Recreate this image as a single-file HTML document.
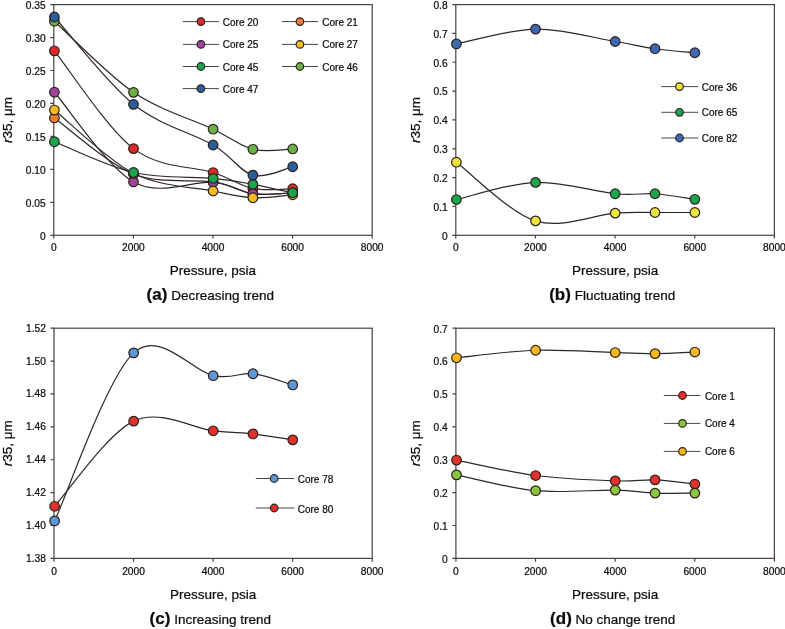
<!DOCTYPE html>
<html><head><meta charset="utf-8"><title>r35 vs pressure</title>
<style>
html,body{margin:0;padding:0;background:#fff;}
body{width:785px;height:629px;overflow:hidden;}
svg{display:block;}
text{font-family:"Liberation Sans", Arial, sans-serif;fill:#0a0a0a;stroke:#0a0a0a;stroke-width:0.22px;}
.tk{font-size:10.2px;}
.lt{font-size:10px;}
.xt,.yt,.cp{font-size:13.5px;}
.cb{font-size:17px;font-weight:bold;}
.ln{fill:none;stroke:#2e2624;stroke-width:1.2;}
.lg{fill:none;stroke:#4e4442;stroke-width:1;}
.mk{stroke:#2a201e;stroke-width:1.2;}
</style></head>
<body>
<svg width="785" height="629" viewBox="0 0 785 629">
<g><rect x="53.8" y="4.6" width="318.4" height="230.7" fill="none" stroke="#4a403e" stroke-width="1.2"/>
<text x="45.6" y="239.6" class="tk" text-anchor="end">0</text>
<text x="45.6" y="206.64" class="tk" text-anchor="end">0.05</text>
<text x="45.6" y="173.69" class="tk" text-anchor="end">0.10</text>
<text x="45.6" y="140.73" class="tk" text-anchor="end">0.15</text>
<text x="45.6" y="107.77" class="tk" text-anchor="end">0.20</text>
<text x="45.6" y="74.81" class="tk" text-anchor="end">0.25</text>
<text x="45.6" y="41.86" class="tk" text-anchor="end">0.30</text>
<text x="45.6" y="8.9" class="tk" text-anchor="end">0.35</text>
<text x="53.8" y="250.7" class="tk" text-anchor="middle">0</text>
<text x="133.4" y="250.7" class="tk" text-anchor="middle">2000</text>
<text x="213" y="250.7" class="tk" text-anchor="middle">4000</text>
<text x="292.6" y="250.7" class="tk" text-anchor="middle">6000</text>
<text x="372.2" y="250.7" class="tk" text-anchor="middle">8000</text>
<path d="M50.3,235.3H53.8 M50.3,202.34H53.8 M50.3,169.39H53.8 M50.3,136.43H53.8 M50.3,103.47H53.8 M50.3,70.51H53.8 M50.3,37.56H53.8 M50.3,4.6H53.8 M53.8,235.3V238.6 M133.4,235.3V238.6 M213,235.3V238.6 M292.6,235.3V238.6 M372.2,235.3V238.6" stroke="#4a403e" stroke-width="1.2" fill="none"/>
<path d="M54.4,50.81 C67.58,67.11 107.05,128.33 133.5,148.62 C159.95,168.91 193.2,165.9 213.1,172.55 C233,179.2 239.63,185.8 252.9,188.5 C266.17,191.2 286.07,188.72 292.7,188.76" class="ln"/>
<path d="M54.4,117.97 C67.58,127.31 107.05,163.34 133.5,174 C159.95,184.66 193.2,178.64 213.1,181.91 C233,185.18 239.63,191.83 252.9,193.64 C266.17,195.45 286.07,192.93 292.7,192.79" class="ln"/>
<path d="M54.4,92.27 C67.58,107.21 107.05,166.91 133.5,181.91 C159.95,196.9 193.2,180.26 213.1,182.24 C233,184.22 239.63,192.02 252.9,193.77 C266.17,195.53 286.07,192.95 292.7,192.79" class="ln"/>
<path d="M54.4,110.06 C67.58,120.61 107.05,159.85 133.5,173.34 C159.95,186.83 193.2,186.94 213.1,191.01 C233,195.07 239.63,197.1 252.9,197.73 C266.17,198.36 286.07,195.26 292.7,194.76" class="ln"/>
<path d="M54.4,141.7 C67.58,146.83 107.05,166.36 133.5,172.48 C159.95,178.6 193.2,176.44 213.1,178.42 C233,180.39 239.63,181.95 252.9,184.35 C266.17,186.74 286.07,191.38 292.7,192.79" class="ln"/>
<path d="M54.4,21.21 C67.58,33.06 107.05,74.34 133.5,92.33 C159.95,110.33 193.2,119.69 213.1,129.18 C233,138.67 239.63,145.99 252.9,149.28 C266.17,152.58 286.07,149.01 292.7,148.95" class="ln"/>
<path d="M54.4,16.99 C67.58,31.55 107.05,82.99 133.5,104.33 C159.95,125.66 193.2,133.2 213.1,145 C233,156.8 239.63,171.49 252.9,175.12 C266.17,178.75 286.07,168.14 292.7,166.75" class="ln"/>
<circle cx="54.4" cy="50.81" r="4.8" fill="#e4282a" class="mk"/>
<circle cx="133.5" cy="148.62" r="4.8" fill="#e4282a" class="mk"/>
<circle cx="213.1" cy="172.55" r="4.8" fill="#e4282a" class="mk"/>
<circle cx="252.9" cy="188.5" r="4.8" fill="#e4282a" class="mk"/>
<circle cx="292.7" cy="188.76" r="4.8" fill="#e4282a" class="mk"/>
<circle cx="54.4" cy="117.97" r="4.8" fill="#ee7d32" class="mk"/>
<circle cx="133.5" cy="174" r="4.8" fill="#ee7d32" class="mk"/>
<circle cx="213.1" cy="181.91" r="4.8" fill="#ee7d32" class="mk"/>
<circle cx="252.9" cy="193.64" r="4.8" fill="#ee7d32" class="mk"/>
<circle cx="292.7" cy="192.79" r="4.8" fill="#ee7d32" class="mk"/>
<circle cx="54.4" cy="92.27" r="4.8" fill="#a1429b" class="mk"/>
<circle cx="133.5" cy="181.91" r="4.8" fill="#a1429b" class="mk"/>
<circle cx="213.1" cy="182.24" r="4.8" fill="#a1429b" class="mk"/>
<circle cx="252.9" cy="193.77" r="4.8" fill="#a1429b" class="mk"/>
<circle cx="292.7" cy="192.79" r="4.8" fill="#a1429b" class="mk"/>
<circle cx="54.4" cy="110.06" r="4.8" fill="#f6bd1e" class="mk"/>
<circle cx="133.5" cy="173.34" r="4.8" fill="#f6bd1e" class="mk"/>
<circle cx="213.1" cy="191.01" r="4.8" fill="#f6bd1e" class="mk"/>
<circle cx="252.9" cy="197.73" r="4.8" fill="#f6bd1e" class="mk"/>
<circle cx="292.7" cy="194.76" r="4.8" fill="#f6bd1e" class="mk"/>
<circle cx="54.4" cy="141.7" r="4.8" fill="#18a54b" class="mk"/>
<circle cx="133.5" cy="172.48" r="4.8" fill="#18a54b" class="mk"/>
<circle cx="213.1" cy="178.42" r="4.8" fill="#18a54b" class="mk"/>
<circle cx="252.9" cy="184.35" r="4.8" fill="#18a54b" class="mk"/>
<circle cx="292.7" cy="192.79" r="4.8" fill="#18a54b" class="mk"/>
<circle cx="54.4" cy="21.21" r="4.8" fill="#6caf46" class="mk"/>
<circle cx="133.5" cy="92.33" r="4.8" fill="#6caf46" class="mk"/>
<circle cx="213.1" cy="129.18" r="4.8" fill="#6caf46" class="mk"/>
<circle cx="252.9" cy="149.28" r="4.8" fill="#6caf46" class="mk"/>
<circle cx="292.7" cy="148.95" r="4.8" fill="#6caf46" class="mk"/>
<circle cx="54.4" cy="16.99" r="4.8" fill="#2b5f9c" class="mk"/>
<circle cx="133.5" cy="104.33" r="4.8" fill="#2b5f9c" class="mk"/>
<circle cx="213.1" cy="145" r="4.8" fill="#2b5f9c" class="mk"/>
<circle cx="252.9" cy="175.12" r="4.8" fill="#2b5f9c" class="mk"/>
<circle cx="292.7" cy="166.75" r="4.8" fill="#2b5f9c" class="mk"/>
<path d="M182.8,21.6H218.8" class="lg"/>
<circle cx="200.9" cy="21.6" r="3.8" fill="#e4282a" class="mk"/>
<text x="222.8" y="25.6" class="lt">Core 20</text>
<path d="M282,21.6H318" class="lg"/>
<circle cx="299.9" cy="21.6" r="3.8" fill="#ee7d32" class="mk"/>
<text x="322.3" y="25.6" class="lt">Core 21</text>
<path d="M182.8,44.4H218.8" class="lg"/>
<circle cx="200.9" cy="44.4" r="3.8" fill="#a1429b" class="mk"/>
<text x="222.8" y="48.4" class="lt">Core 25</text>
<path d="M282,44.4H318" class="lg"/>
<circle cx="299.9" cy="44.4" r="3.8" fill="#f6bd1e" class="mk"/>
<text x="322.3" y="48.4" class="lt">Core 27</text>
<path d="M182.8,66.5H218.8" class="lg"/>
<circle cx="200.9" cy="66.5" r="3.8" fill="#18a54b" class="mk"/>
<text x="222.8" y="70.5" class="lt">Core 45</text>
<path d="M282,66.5H318" class="lg"/>
<circle cx="299.9" cy="66.5" r="3.8" fill="#6caf46" class="mk"/>
<text x="322.3" y="70.5" class="lt">Core 46</text>
<path d="M182.8,88.6H218.8" class="lg"/>
<circle cx="200.9" cy="88.6" r="3.8" fill="#2b5f9c" class="mk"/>
<text x="222.8" y="92.6" class="lt">Core 47</text>
<text transform="translate(11.8,119.95) rotate(-90)" class="yt" text-anchor="middle"><tspan font-style="italic">r</tspan>35, μm</text>
<text x="213" y="275" class="xt" text-anchor="middle">Pressure, psia</text>
<text x="146.6" y="300.4" class="cp"><tspan class="cb">(a)</tspan> Decreasing trend</text></g>
<g><rect x="455.8" y="4.6" width="318.6" height="230.7" fill="none" stroke="#4a403e" stroke-width="1.2"/>
<text x="447.6" y="239.6" class="tk" text-anchor="end">0</text>
<text x="447.6" y="210.76" class="tk" text-anchor="end">0.1</text>
<text x="447.6" y="181.93" class="tk" text-anchor="end">0.2</text>
<text x="447.6" y="153.09" class="tk" text-anchor="end">0.3</text>
<text x="447.6" y="124.25" class="tk" text-anchor="end">0.4</text>
<text x="447.6" y="95.41" class="tk" text-anchor="end">0.5</text>
<text x="447.6" y="66.57" class="tk" text-anchor="end">0.6</text>
<text x="447.6" y="37.74" class="tk" text-anchor="end">0.7</text>
<text x="447.6" y="8.9" class="tk" text-anchor="end">0.8</text>
<text x="455.8" y="250.7" class="tk" text-anchor="middle">0</text>
<text x="535.45" y="250.7" class="tk" text-anchor="middle">2000</text>
<text x="615.1" y="250.7" class="tk" text-anchor="middle">4000</text>
<text x="694.75" y="250.7" class="tk" text-anchor="middle">6000</text>
<text x="774.4" y="250.7" class="tk" text-anchor="middle">8000</text>
<path d="M452.3,235.3H455.8 M452.3,206.46H455.8 M452.3,177.62H455.8 M452.3,148.79H455.8 M452.3,119.95H455.8 M452.3,91.11H455.8 M452.3,62.27H455.8 M452.3,33.44H455.8 M452.3,4.6H455.8 M455.8,235.3V238.6 M535.45,235.3V238.6 M615.1,235.3V238.6 M694.75,235.3V238.6 M774.4,235.3V238.6" stroke="#4a403e" stroke-width="1.2" fill="none"/>
<path d="M456.4,162.2 C469.59,171.98 509.08,212.4 535.55,220.88 C562.02,229.36 595.29,214.49 615.2,213.1 C635.11,211.7 641.75,212.61 655.02,212.52 C668.3,212.42 688.21,212.52 694.85,212.52" class="ln"/>
<path d="M456.4,199.54 C469.59,196.68 509.08,183.34 535.55,182.38 C562.02,181.42 595.29,191.88 615.2,193.77 C635.11,195.67 641.75,192.85 655.02,193.77 C668.3,194.7 688.21,198.39 694.85,199.31" class="ln"/>
<path d="M456.4,43.91 C469.59,41.44 509.08,29.51 535.55,29.11 C562.02,28.71 595.29,38.24 615.2,41.51 C635.11,44.78 641.75,46.85 655.02,48.72 C668.3,50.6 688.21,52.09 694.85,52.76" class="ln"/>
<circle cx="456.4" cy="162.2" r="4.8" fill="#ede53e" class="mk"/>
<circle cx="535.55" cy="220.88" r="4.8" fill="#ede53e" class="mk"/>
<circle cx="615.2" cy="213.1" r="4.8" fill="#ede53e" class="mk"/>
<circle cx="655.02" cy="212.52" r="4.8" fill="#ede53e" class="mk"/>
<circle cx="694.85" cy="212.52" r="4.8" fill="#ede53e" class="mk"/>
<circle cx="456.4" cy="199.54" r="4.8" fill="#1ba64c" class="mk"/>
<circle cx="535.55" cy="182.38" r="4.8" fill="#1ba64c" class="mk"/>
<circle cx="615.2" cy="193.77" r="4.8" fill="#1ba64c" class="mk"/>
<circle cx="655.02" cy="193.77" r="4.8" fill="#1ba64c" class="mk"/>
<circle cx="694.85" cy="199.31" r="4.8" fill="#1ba64c" class="mk"/>
<circle cx="456.4" cy="43.91" r="4.8" fill="#3f68b3" class="mk"/>
<circle cx="535.55" cy="29.11" r="4.8" fill="#3f68b3" class="mk"/>
<circle cx="615.2" cy="41.51" r="4.8" fill="#3f68b3" class="mk"/>
<circle cx="655.02" cy="48.72" r="4.8" fill="#3f68b3" class="mk"/>
<circle cx="694.85" cy="52.76" r="4.8" fill="#3f68b3" class="mk"/>
<path d="M661.3,86.6H698.2" class="lg"/>
<circle cx="679.5" cy="86.6" r="3.8" fill="#ede53e" class="mk"/>
<text x="701.7" y="90.6" class="lt">Core 36</text>
<path d="M661.3,112.3H698.2" class="lg"/>
<circle cx="679.5" cy="112.3" r="3.8" fill="#1ba64c" class="mk"/>
<text x="701.7" y="116.3" class="lt">Core 65</text>
<path d="M661.3,138H698.2" class="lg"/>
<circle cx="679.5" cy="138" r="3.8" fill="#3f68b3" class="mk"/>
<text x="701.7" y="142" class="lt">Core 82</text>
<text transform="translate(419.9,119.95) rotate(-90)" class="yt" text-anchor="middle"><tspan font-style="italic">r</tspan>35, μm</text>
<text x="615.1" y="275" class="xt" text-anchor="middle">Pressure, psia</text>
<text x="549.2" y="300.4" class="cp"><tspan class="cb">(b)</tspan> Fluctuating trend</text></g>
<g><rect x="54" y="328.2" width="318.2" height="230.2" fill="none" stroke="#4a403e" stroke-width="1.2"/>
<text x="45.8" y="561.9" class="tk" text-anchor="end">1.38</text>
<text x="45.8" y="529.01" class="tk" text-anchor="end">1.40</text>
<text x="45.8" y="496.13" class="tk" text-anchor="end">1.42</text>
<text x="45.8" y="463.24" class="tk" text-anchor="end">1.44</text>
<text x="45.8" y="430.36" class="tk" text-anchor="end">1.46</text>
<text x="45.8" y="397.47" class="tk" text-anchor="end">1.48</text>
<text x="45.8" y="364.59" class="tk" text-anchor="end">1.50</text>
<text x="45.8" y="331.7" class="tk" text-anchor="end">1.52</text>
<text x="54" y="574.7" class="tk" text-anchor="middle">0</text>
<text x="133.55" y="574.7" class="tk" text-anchor="middle">2000</text>
<text x="213.1" y="574.7" class="tk" text-anchor="middle">4000</text>
<text x="292.65" y="574.7" class="tk" text-anchor="middle">6000</text>
<text x="372.2" y="574.7" class="tk" text-anchor="middle">8000</text>
<path d="M50.5,558.4H54 M50.5,525.51H54 M50.5,492.63H54 M50.5,459.74H54 M50.5,426.86H54 M50.5,393.97H54 M50.5,361.09H54 M50.5,328.2H54 M54,558.4V561.7 M133.55,558.4V561.7 M213.1,558.4V561.7 M292.65,558.4V561.7 M372.2,558.4V561.7" stroke="#4a403e" stroke-width="1.2" fill="none"/>
<path d="M54.6,520.91 C67.78,492.9 107.22,377.06 133.65,352.86 C160.08,328.67 193.31,372.24 213.2,375.72 C233.09,379.2 239.72,372.21 252.97,373.75 C266.23,375.28 286.12,383.06 292.75,384.93" class="ln"/>
<path d="M54.6,506.28 C67.78,492.08 107.22,433.68 133.65,421.1 C160.08,408.52 193.31,428.67 213.2,430.8 C233.09,432.94 239.72,432.42 252.97,433.93 C266.23,435.43 286.12,438.86 292.75,439.85" class="ln"/>
<circle cx="54.6" cy="520.91" r="4.8" fill="#5d97d4" class="mk"/>
<circle cx="133.65" cy="352.86" r="4.8" fill="#5d97d4" class="mk"/>
<circle cx="213.2" cy="375.72" r="4.8" fill="#5d97d4" class="mk"/>
<circle cx="252.97" cy="373.75" r="4.8" fill="#5d97d4" class="mk"/>
<circle cx="292.75" cy="384.93" r="4.8" fill="#5d97d4" class="mk"/>
<circle cx="54.6" cy="506.28" r="4.8" fill="#e2302b" class="mk"/>
<circle cx="133.65" cy="421.1" r="4.8" fill="#e2302b" class="mk"/>
<circle cx="213.2" cy="430.8" r="4.8" fill="#e2302b" class="mk"/>
<circle cx="252.97" cy="433.93" r="4.8" fill="#e2302b" class="mk"/>
<circle cx="292.75" cy="439.85" r="4.8" fill="#e2302b" class="mk"/>
<path d="M255.8,478.5H294.5" class="lg"/>
<circle cx="274.2" cy="478.5" r="3.8" fill="#5d97d4" class="mk"/>
<text x="297.7" y="483" class="lt">Core 78</text>
<path d="M255.8,508H294.5" class="lg"/>
<circle cx="274.2" cy="508" r="3.8" fill="#e2302b" class="mk"/>
<text x="297.7" y="512.5" class="lt">Core 80</text>
<text transform="translate(12,443.3) rotate(-90)" class="yt" text-anchor="middle"><tspan font-style="italic">r</tspan>35, μm</text>
<text x="213.1" y="598.6" class="xt" text-anchor="middle">Pressure, psia</text>
<text x="149.6" y="623.9" class="cp"><tspan class="cb">(c)</tspan> Increasing trend</text></g>
<g><rect x="455.9" y="328.2" width="318.5" height="230.2" fill="none" stroke="#4a403e" stroke-width="1.2"/>
<text x="447.7" y="562.7" class="tk" text-anchor="end">0</text>
<text x="447.7" y="529.81" class="tk" text-anchor="end">0.1</text>
<text x="447.7" y="496.93" class="tk" text-anchor="end">0.2</text>
<text x="447.7" y="464.04" class="tk" text-anchor="end">0.3</text>
<text x="447.7" y="431.16" class="tk" text-anchor="end">0.4</text>
<text x="447.7" y="398.27" class="tk" text-anchor="end">0.5</text>
<text x="447.7" y="365.39" class="tk" text-anchor="end">0.6</text>
<text x="447.7" y="332.5" class="tk" text-anchor="end">0.7</text>
<text x="455.9" y="574.7" class="tk" text-anchor="middle">0</text>
<text x="535.52" y="574.7" class="tk" text-anchor="middle">2000</text>
<text x="615.15" y="574.7" class="tk" text-anchor="middle">4000</text>
<text x="694.77" y="574.7" class="tk" text-anchor="middle">6000</text>
<text x="774.4" y="574.7" class="tk" text-anchor="middle">8000</text>
<path d="M452.4,558.4H455.9 M452.4,525.51H455.9 M452.4,492.63H455.9 M452.4,459.74H455.9 M452.4,426.86H455.9 M452.4,393.97H455.9 M452.4,361.09H455.9 M452.4,328.2H455.9 M455.9,558.4V561.7 M535.52,558.4V561.7 M615.15,558.4V561.7 M694.77,558.4V561.7 M774.4,558.4V561.7" stroke="#4a403e" stroke-width="1.2" fill="none"/>
<path d="M456.5,460.07 C469.69,462.65 509.17,472.06 535.62,475.53 C562.08,479 595.34,480.16 615.25,480.89 C635.16,481.62 641.79,479.37 655.06,479.9 C668.33,480.43 688.24,483.38 694.88,484.08" class="ln"/>
<path d="M456.5,474.87 C469.69,477.5 509.17,488.12 535.62,490.66 C562.08,493.19 595.34,489.69 615.25,490.1 C635.16,490.51 641.79,492.62 655.06,493.12 C668.33,493.63 688.24,493.12 694.88,493.12" class="ln"/>
<path d="M456.5,357.8 C469.69,356.54 509.17,351.11 535.62,350.23 C562.08,349.36 595.34,351.97 615.25,352.54 C635.16,353.1 641.79,353.7 655.06,353.62 C668.33,353.54 688.24,352.31 694.88,352.04" class="ln"/>
<circle cx="456.5" cy="460.07" r="4.8" fill="#e2302b" class="mk"/>
<circle cx="535.62" cy="475.53" r="4.8" fill="#e2302b" class="mk"/>
<circle cx="615.25" cy="480.89" r="4.8" fill="#e2302b" class="mk"/>
<circle cx="655.06" cy="479.9" r="4.8" fill="#e2302b" class="mk"/>
<circle cx="694.88" cy="484.08" r="4.8" fill="#e2302b" class="mk"/>
<circle cx="456.5" cy="474.87" r="4.8" fill="#8cc641" class="mk"/>
<circle cx="535.62" cy="490.66" r="4.8" fill="#8cc641" class="mk"/>
<circle cx="615.25" cy="490.1" r="4.8" fill="#8cc641" class="mk"/>
<circle cx="655.06" cy="493.12" r="4.8" fill="#8cc641" class="mk"/>
<circle cx="694.88" cy="493.12" r="4.8" fill="#8cc641" class="mk"/>
<circle cx="456.5" cy="357.8" r="4.8" fill="#f6b81e" class="mk"/>
<circle cx="535.62" cy="350.23" r="4.8" fill="#f6b81e" class="mk"/>
<circle cx="615.25" cy="352.54" r="4.8" fill="#f6b81e" class="mk"/>
<circle cx="655.06" cy="353.62" r="4.8" fill="#f6b81e" class="mk"/>
<circle cx="694.88" cy="352.04" r="4.8" fill="#f6b81e" class="mk"/>
<path d="M663.8,395.5H700.3" class="lg"/>
<circle cx="682.5" cy="395.5" r="3.8" fill="#e2302b" class="mk"/>
<text x="704.9" y="399.5" class="lt">Core 1</text>
<path d="M663.8,423.4H700.3" class="lg"/>
<circle cx="682.5" cy="423.4" r="3.8" fill="#8cc641" class="mk"/>
<text x="704.9" y="427.4" class="lt">Core 4</text>
<path d="M663.8,451.4H700.3" class="lg"/>
<circle cx="682.5" cy="451.4" r="3.8" fill="#f6b81e" class="mk"/>
<text x="704.9" y="455.4" class="lt">Core 6</text>
<text transform="translate(420,443.3) rotate(-90)" class="yt" text-anchor="middle"><tspan font-style="italic">r</tspan>35, μm</text>
<text x="615.15" y="598.6" class="xt" text-anchor="middle">Pressure, psia</text>
<text x="550.1" y="623.9" class="cp"><tspan class="cb">(d)</tspan> No change trend</text></g>
</svg>
</body></html>
